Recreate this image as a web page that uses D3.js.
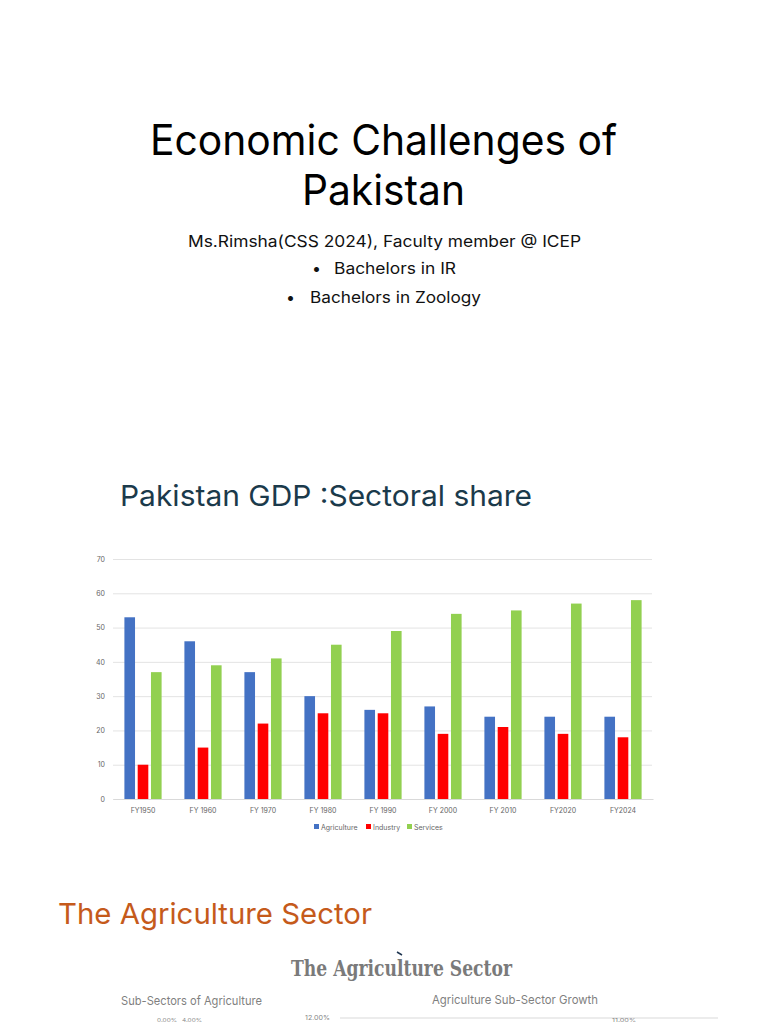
<!DOCTYPE html>
<html>
<head>
<meta charset="utf-8">
<script src="https://cdn.jsdelivr.net/npm/d3@7"></script>
<style>
  html, body { margin: 0; padding: 0; background: #fff; }
  svg { display: block; }
</style>
</head>
<body>
<svg id="page" width="768" height="1024"></svg>
<script>
const categories = ["FY1950", "FY 1960", "FY 1970", "FY 1980", "FY 1990", "FY 2000", "FY 2010", "FY2020", "FY2024"];
const seriesNames = ["Agriculture", "Industry", "Services"];
const agriculture = [53, 46, 37, 30, 26, 27, 24, 24, 24];
const industry = [10, 15, 22, 25, 25, 19, 21, 19, 18];
const services = [37, 39, 41, 45, 49, 54, 55, 57, 58];
const yTicks = [0, 10, 20, 30, 40, 50, 60, 70];
const colors = ["#4472C4", "#FF0000", "#92D050"];

const seriesValues = [agriculture, industry, services];
const table = categories.map((c, i) => ({ cat: c, vals: seriesNames.map((s, j) => ({ s, v: seriesValues[j][i] })) }));

const svg = d3.select("#page");
const sans = "Inter, 'Noto Sans', sans-serif";

function txt(t, x, y, size, opts = {}) {
  const e = svg.append("text").attr("x", x).attr("y", y).text(t)
    .attr("font-family", opts.family || sans)
    .attr("font-size", size)
    .attr("fill", opts.fill || "#000")
    .attr("text-anchor", opts.anchor || "start");
  if (opts.weight) e.attr("font-weight", opts.weight);
  if (opts.len) e.attr("textLength", opts.len).attr("lengthAdjust", "spacingAndGlyphs");
  return e;
}

// Slide text
txt("Economic Challenges of", 150, 155, 42, { len: 467 });
txt("Pakistan", 302, 205, 42, { len: 163 });
txt("Ms.Rimsha(CSS 2024), Faculty member @ ICEP", 188, 247, 16, { len: 393, fill: "#111" });
txt("•", 312, 274, 16, { fill: "#111" });
txt("Bachelors in IR", 334, 274, 16, { len: 122, fill: "#111" });
txt("•", 286, 303, 16, { fill: "#111" });
txt("Bachelors in Zoology", 310, 303, 16, { len: 171, fill: "#111" });

txt("Pakistan GDP :Sectoral share", 120, 506, 29, { len: 412, fill: "#1B3A4B" });
txt("The Agriculture Sector", 58, 924, 29, { len: 314, fill: "#C55A1B" });

// Chart
const x0 = d3.scaleBand().domain(categories).range([113, 653]).paddingInner(0.38).paddingOuter(0.19);
const x1 = d3.scaleBand().domain(seriesNames).range([0, x0.bandwidth()]).paddingInner(0.2);
const y = d3.scaleLinear().domain([0, 70]).range([799, 559]);
const color = d3.scaleOrdinal().domain(seriesNames).range(colors);

const chart = svg.append("g");

const yAxis = chart.append("g").attr("transform", "translate(113,0)")
  .call(d3.axisLeft(y).tickValues(yTicks).tickSize(-539).tickPadding(8));
yAxis.select(".domain").remove();
yAxis.selectAll(".tick line").attr("stroke", "#e3e3e3").attr("stroke-width", 1);
yAxis.selectAll(".tick text").attr("font-family", sans).attr("font-size", 7).attr("fill", "#666");

const groups = chart.selectAll("g.grp").data(table).join("g")
  .attr("class", "grp")
  .attr("transform", d => `translate(${x0(d.cat)},0)`);
groups.selectAll("rect").data(d => d.vals).join("rect")
  .attr("x", d => x1(d.s))
  .attr("width", x1.bandwidth())
  .attr("y", d => y(d.v))
  .attr("height", d => y(0) - y(d.v))
  .attr("fill", d => color(d.s));

const xAxis = chart.append("g").attr("transform", "translate(0,799)")
  .call(d3.axisBottom(x0).tickSize(0).tickPadding(9));
xAxis.select(".domain").attr("stroke", "#d9d9d9");
xAxis.selectAll(".tick text").attr("font-family", sans).attr("font-size", 7).attr("fill", "#666");

// Legend
const legendX = [314, 366, 407];
const legend = chart.selectAll("g.leg").data(seriesNames).join("g")
  .attr("class", "leg")
  .attr("transform", (d, i) => `translate(${legendX[i]},824)`);
legend.append("rect").attr("width", 5).attr("height", 5).attr("fill", d => color(d));
legend.append("text").attr("x", 7).attr("y", 5.5).text(d => d)
  .attr("font-family", sans).attr("font-size", 7).attr("fill", "#666");

// Embedded image fragment at bottom
txt("The Agriculture Sector", 291, 976, 22, { family: "'DejaVu Serif', 'Liberation Serif', serif", weight: "bold", fill: "#7a7a7a", len: 221 });
svg.append("line").attr("x1", 397).attr("y1", 952).attr("x2", 402).attr("y2", 955).attr("stroke", "#1f3550").attr("stroke-width", 1.5);
txt("Sub-Sectors of Agriculture", 121, 1005, 12, { fill: "#7f7f7f", len: 141 });
txt("Agriculture Sub-Sector Growth", 432, 1004, 12, { fill: "#7f7f7f", len: 166 });
txt("12.00%", 305, 1020, 6, { fill: "#888", len: 25 });
svg.append("line").attr("x1", 340).attr("y1", 1018).attr("x2", 718).attr("y2", 1018).attr("stroke", "#d9d9d9").attr("stroke-width", 1);
txt("11.00%", 612, 1022, 5, { fill: "#888", len: 24 });
txt("0.00%", 157, 1022, 5, { fill: "#888", len: 20 });
txt("4.00%", 182, 1022, 5, { fill: "#888", len: 20 });
</script>
</body>
</html>
